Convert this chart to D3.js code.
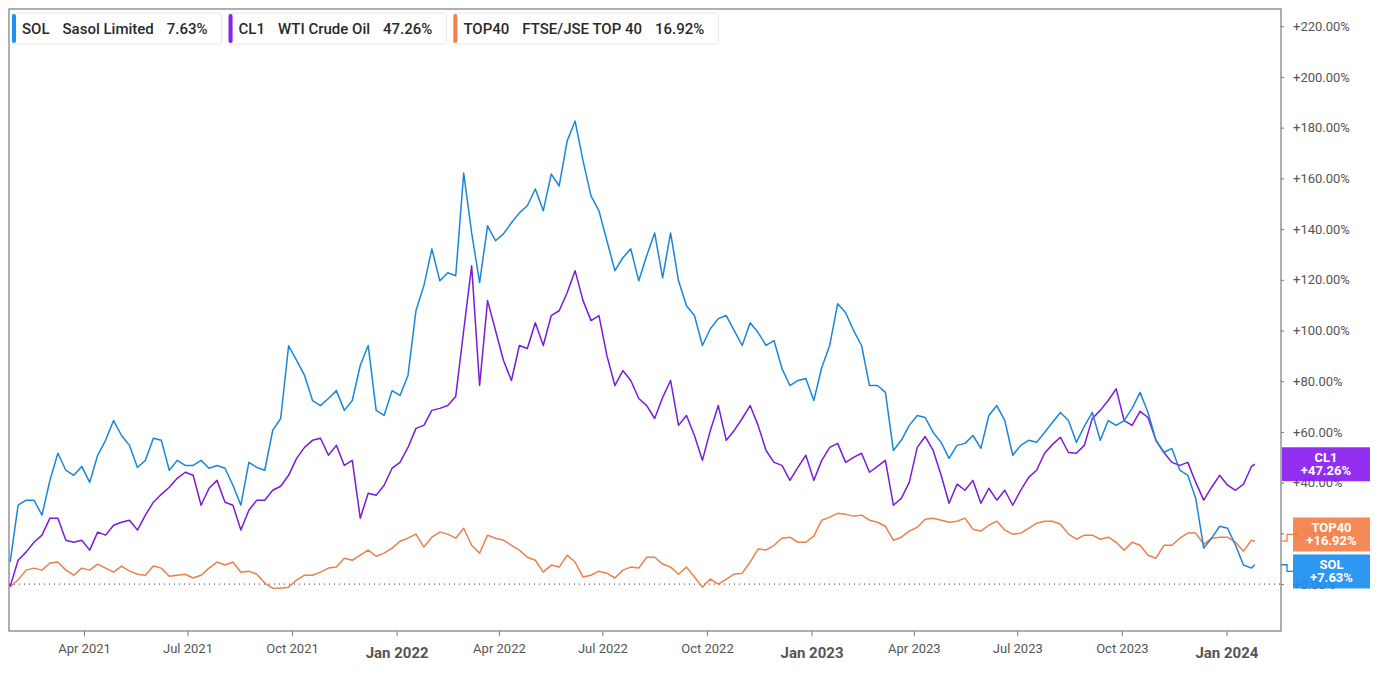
<!DOCTYPE html>
<html>
<head>
<meta charset="utf-8">
<script src="https://cdn.jsdelivr.net/npm/d3@7"></script>
<style>
  body { margin: 0; background: #fff; }
  svg { font-family: Roboto, "Noto Sans", sans-serif; }
</style>
</head>
<body>
<div class="chart"></div>
<script>
// Mesures
const size = { width: 1379, height: 676 };
const plot = { left: 9, right: 1281, top: 9, bottom: 631 };

// data: weekly closes, % change
const startDate = "2021-01-26";
const endDate = "2024-01-26";

const solValues = [
  8.7, 31.1, 33.1, 33.1, 27.2, 40.9, 51.6, 44.9, 42.9, 46.4,
  40.1, 50.8, 56.7, 64.5, 58.6, 54.7, 46.0, 48.8, 57.5, 56.7,
  44.9, 48.8, 46.8, 46.8, 48.8, 45.7, 46.8, 45.7, 39.0, 31.1,
  48.0, 46.0, 44.9, 60.6, 65.3, 94.0, 88.2, 82.3, 72.4, 70.4,
  73.2, 76.3, 68.5, 72.4, 86.2, 94.1, 68.5, 66.5, 76.3, 74.4,
  82.3, 107.8, 117.7, 132.2, 119.6, 122.8, 121.6, 162.1, 138.5, 118.9,
  141.3, 135.4, 138.1, 142.5, 146.4, 149.2, 155.8, 147.2, 161.7, 157.0,
  174.7, 182.6, 166.9, 153.1, 147.2, 135.4, 123.6, 128.7, 132.2, 119.6,
  129.5, 138.5, 120.8, 138.5, 119.6, 109.8, 105.9, 94.1, 100.7, 104.7,
  105.9, 100.0, 94.1, 103.1, 99.2, 94.1, 96.0, 85.0, 78.3, 80.3,
  81.1, 72.4, 85.4, 94.1, 110.6, 107.0, 100.0, 94.1, 78.3, 78.3,
  75.6, 52.7, 56.7, 62.6, 66.5, 65.7, 59.8, 55.9, 49.6, 54.7,
  55.5, 58.6, 53.5, 66.5, 70.4, 64.5, 50.8, 54.7, 56.7, 55.9,
  59.8, 63.8, 67.7, 64.5, 55.9, 62.2, 67.7, 56.7, 64.5, 62.6,
  64.5, 69.3, 75.6, 67.7, 56.7, 51.9, 53.5, 44.9, 42.9, 33.8,
  14.2, 18.1, 22.8, 22.0, 15.3, 7.5, 6.3, 7.63
];

const cl1Values = [
  -1.0, 9.4, 12.6, 16.5, 19.3, 26.0, 26.0, 17.3, 16.5, 17.3,
  13.4, 20.5, 19.3, 23.2, 24.4, 25.2, 21.3, 27.2, 32.3, 35.4,
  38.2, 41.7, 44.1, 42.9, 31.1, 37.8, 40.9, 32.3, 31.1, 21.3,
  29.1, 33.1, 33.1, 37.0, 38.6, 42.9, 49.6, 53.9, 56.7, 57.5,
  50.8, 54.7, 46.8, 48.8, 26.0, 35.8, 35.0, 39.0, 45.7, 48.0,
  53.9, 61.4, 62.6, 68.5, 69.3, 70.4, 74.0, 100.0, 125.5, 78.3,
  111.8, 100.0, 88.2, 80.3, 94.1, 92.9, 103.1, 94.1, 105.9, 107.8,
  114.9, 123.6, 111.8, 103.9, 105.9, 90.1, 78.3, 84.2, 80.3, 73.2,
  70.4, 65.3, 73.6, 80.3, 62.6, 66.5, 58.6, 48.8, 60.6, 70.4,
  56.7, 60.6, 65.3, 70.4, 62.6, 52.7, 48.0, 46.8, 40.9, 46.0,
  50.8, 40.9, 48.8, 53.9, 55.5, 48.0, 50.0, 51.6, 44.1, 46.4,
  48.8, 31.1, 33.8, 40.1, 53.9, 58.2, 52.7, 42.9, 31.9, 39.4,
  37.0, 40.9, 31.9, 37.8, 33.1, 37.0, 31.1, 37.0, 42.1, 44.9,
  51.6, 55.1, 57.9, 51.9, 51.6, 54.7, 65.3, 68.5, 72.4, 77.0,
  64.5, 62.6, 68.1, 65.7, 56.7, 51.9, 48.0, 46.8, 48.0, 40.1,
  33.1, 38.2, 42.9, 39.0, 37.0, 39.4, 46.4, 47.26
];

const top40Values = [
  -1.0, 1.6, 5.5, 6.3, 5.5, 8.3, 8.7, 5.5, 3.5, 6.3,
  5.5, 7.9, 6.3, 4.7, 7.1, 5.1, 3.9, 3.5, 7.1, 6.3,
  3.1, 3.5, 3.9, 2.4, 3.5, 6.3, 8.7, 7.5, 8.7, 4.7,
  5.1, 3.9, 0.4, -1.6, -1.6, -1.2, 1.6, 3.5, 3.5, 4.7,
  6.3, 6.7, 10.2, 9.4, 11.4, 13.4, 11.0, 12.2, 14.2, 16.9,
  18.1, 19.7, 14.6, 18.5, 20.5, 19.7, 18.1, 22.0, 15.3, 12.2,
  19.3, 18.1, 17.3, 15.3, 13.4, 10.6, 9.4, 4.7, 7.5, 6.7,
  11.4, 8.7, 2.8, 3.5, 5.1, 4.3, 2.4, 5.5, 6.7, 6.3,
  10.6, 10.6, 7.9, 6.7, 3.9, 6.7, 2.8, -1.2, 2.0, 0.0,
  2.0, 3.9, 4.3, 8.7, 13.8, 13.4, 15.3, 18.1, 18.5, 16.5,
  16.5, 18.9, 25.2, 26.4, 27.9, 27.5, 26.8, 27.2, 25.2, 24.4,
  22.8, 17.3, 18.5, 20.9, 22.4, 25.6, 26.0, 25.2, 24.4, 24.8,
  26.0, 21.6, 20.9, 23.2, 24.8, 21.3, 19.7, 20.1, 22.0, 24.0,
  24.8, 24.8, 23.6, 19.7, 17.7, 19.3, 19.3, 17.7, 18.5, 16.5,
  13.4, 16.5, 15.3, 11.4, 10.2, 15.3, 15.3, 18.1, 20.1, 20.1,
  15.7, 18.1, 18.5, 18.5, 16.5, 13.0, 17.3, 16.92
];

const seriesKeys = ["SOL", "CL1", "TOP40"];
const seriesNames = ["Sasol Limited", "WTI Crude Oil", "FTSE/JSE TOP 40"];
const seriesColors = ["#1a86d8", "#7a1bd8", "#e9814c"];
const boxColors = ["#1e8ff0", "#8b1ff0", "#f5814a"];
const yTickValues = [0, 20, 40, 60, 80, 100, 120, 140, 160, 180, 200, 220];
const xTickDates = ["2021-04-01", "2021-07-01", "2021-10-01", "2022-01-01", "2022-04-01",
  "2022-07-01", "2022-10-01", "2023-01-01", "2023-04-01", "2023-07-01", "2023-10-01", "2024-01-01"];

const parse = d3.utcParse("%Y-%m-%d");
const n = solValues.length;
const dates = d3.range(n).map((i) => i === n - 1 ? parse(endDate) : d3.utcDay.offset(parse(startDate), 7 * i));

const series = [solValues, cl1Values, top40Values].map((vals, k) => ({
  key: seriesKeys[k],
  name: seriesNames[k],
  color: seriesColors[k],
  box: boxColors[k],
  points: vals.map((v, i) => ({ date: dates[i], value: v }))
}));

// SVG
const svg = d3.select(".chart")
  .append("svg")
  .attr("width", size.width)
  .attr("height", size.height);

const x = d3.scaleUtc()
  .domain([parse("2021-01-25"), parse("2024-02-18")])
  .range([plot.left, plot.right]);

const y = d3.scaleLinear()
  .domain([-18.5, 226.8])
  .range([plot.bottom, plot.top]);

// frame
svg.append("rect")
  .attr("x", plot.left)
  .attr("y", plot.top)
  .attr("width", plot.right - plot.left)
  .attr("height", plot.bottom - plot.top)
  .attr("fill", "none")
  .attr("stroke", "#7a7a7a")
  .attr("stroke-width", 1.2);

// right axis
const fmt = d3.format("+.2f");
const yAxis = svg.append("g")
  .attr("transform", `translate(${plot.right},0)`)
  .call(d3.axisRight(y).tickValues(yTickValues).tickSize(3).tickPadding(9).tickFormat((d) => fmt(d) + "%"));
yAxis.select(".domain").remove();
yAxis.selectAll("line").attr("stroke", "#777");
yAxis.selectAll("text")
  .attr("fill", "#555")
  .attr("font-size", 13)
  .attr("font-family", "Roboto, sans-serif");

// bottom axis
const xAxis = svg.append("g")
  .attr("transform", `translate(0,${plot.bottom})`)
  .call(d3.axisBottom(x).tickValues(xTickDates.map(parse)).tickSize(5).tickPadding(8)
    .tickFormat(d3.utcFormat("%b %Y")));
xAxis.select(".domain").remove();
xAxis.selectAll("line").attr("stroke", "#777");
xAxis.selectAll("text")
  .attr("fill", "#555")
  .attr("font-family", "Roboto, sans-serif")
  .attr("font-size", (d) => d.getUTCMonth() === 0 ? 15 : 13)
  .attr("font-weight", (d) => d.getUTCMonth() === 0 ? 700 : 400)
  .attr("dy", (d) => d.getUTCMonth() === 0 ? "0.95em" : "0.71em");

// zero line
svg.append("line")
  .attr("x1", plot.left)
  .attr("x2", plot.right)
  .attr("y1", y(0))
  .attr("y2", y(0))
  .attr("stroke", "#333")
  .attr("stroke-width", 1)
  .attr("stroke-dasharray", "1,4");

// lines
const line = d3.line()
  .x((d) => x(d.date))
  .y((d) => y(d.value));

svg.append("g")
  .selectAll("path")
  .data([series[2], series[1], series[0]])
  .join("path")
  .attr("d", (d) => line(d.points))
  .attr("fill", "none")
  .attr("stroke", (d) => d.color)
  .attr("stroke-width", 1.5)
  .attr("stroke-linejoin", "round");

// end labels
const boxH = 34, gap = 3;
const ends = series.map((s) => {
  const v = s.points[s.points.length - 1].value;
  return { s, v, y0: y(v), yc: y(v) };
}).sort((a, b) => a.y0 - b.y0);

for (let iter = 0; iter < 50; iter++) {
  for (let i = 1; i < ends.length; i++) {
    const overlap = ends[i - 1].yc + boxH + gap - ends[i].yc;
    if (overlap > 0) {
      ends[i - 1].yc -= overlap / 2;
      ends[i].yc += overlap / 2;
    }
  }
}

const endG = svg.append("g");
ends.forEach((e) => {
  const moved = Math.abs(e.yc - e.y0) > 0.5;
  const bx = moved ? plot.right + 12 : plot.right + 1;
  const bw = 1370 - bx;
  if (moved) {
    endG.append("path")
      .attr("d", `M${plot.right},${e.y0}H${plot.right + 6}V${e.yc}H${bx}`)
      .attr("fill", "none")
      .attr("stroke", e.s.color)
      .attr("stroke-width", 1.3);
  }
  endG.append("rect")
    .attr("x", bx)
    .attr("y", e.yc - boxH / 2)
    .attr("width", bw)
    .attr("height", boxH)
    .attr("fill", e.s.box)
    .attr("opacity", 0.93);
  endG.append("text")
    .attr("x", bx + bw / 2)
    .attr("y", e.yc - 2)
    .attr("text-anchor", "middle")
    .attr("fill", "#fff")
    .attr("font-size", 13)
    .attr("font-weight", 700)
    .text(e.s.key);
  endG.append("text")
    .attr("x", bx + bw / 2)
    .attr("y", e.yc + 11)
    .attr("text-anchor", "middle")
    .attr("fill", "#fff")
    .attr("font-size", 13)
    .attr("font-weight", 700)
    .text(fmt(e.v) + "%");
});

// legend
const legend = svg.append("g");
let lx = 12;
series.forEach((s) => {
  const g = legend.append("g").attr("transform", `translate(${lx},13)`);
  const bg = g.append("rect")
    .attr("y", 0)
    .attr("height", 31)
    .attr("rx", 3)
    .attr("fill", "#fff")
    .attr("stroke", "#e6e6e6");
  g.append("rect")
    .attr("x", 0)
    .attr("y", 1)
    .attr("width", 4)
    .attr("height", 29)
    .attr("rx", 2)
    .attr("fill", s.box);
  let tx = 10;
  const last = s.points[s.points.length - 1].value;
  const parts = [s.key, s.name, d3.format(".2f")(last) + "%"];
  parts.forEach((t, j) => {
    const txt = g.append("text")
      .attr("x", tx)
      .attr("y", 21)
      .attr("fill", "#2a2a2a")
      .attr("font-size", 15)
      .attr("font-weight", 500)
      .text(t);
    tx += txt.node().getComputedTextLength() + (j < parts.length - 1 ? 13 : 0);
  });
  const w = tx + 14;
  bg.attr("width", w);
  lx += w + 7;
});
</script>
</body>
</html>
